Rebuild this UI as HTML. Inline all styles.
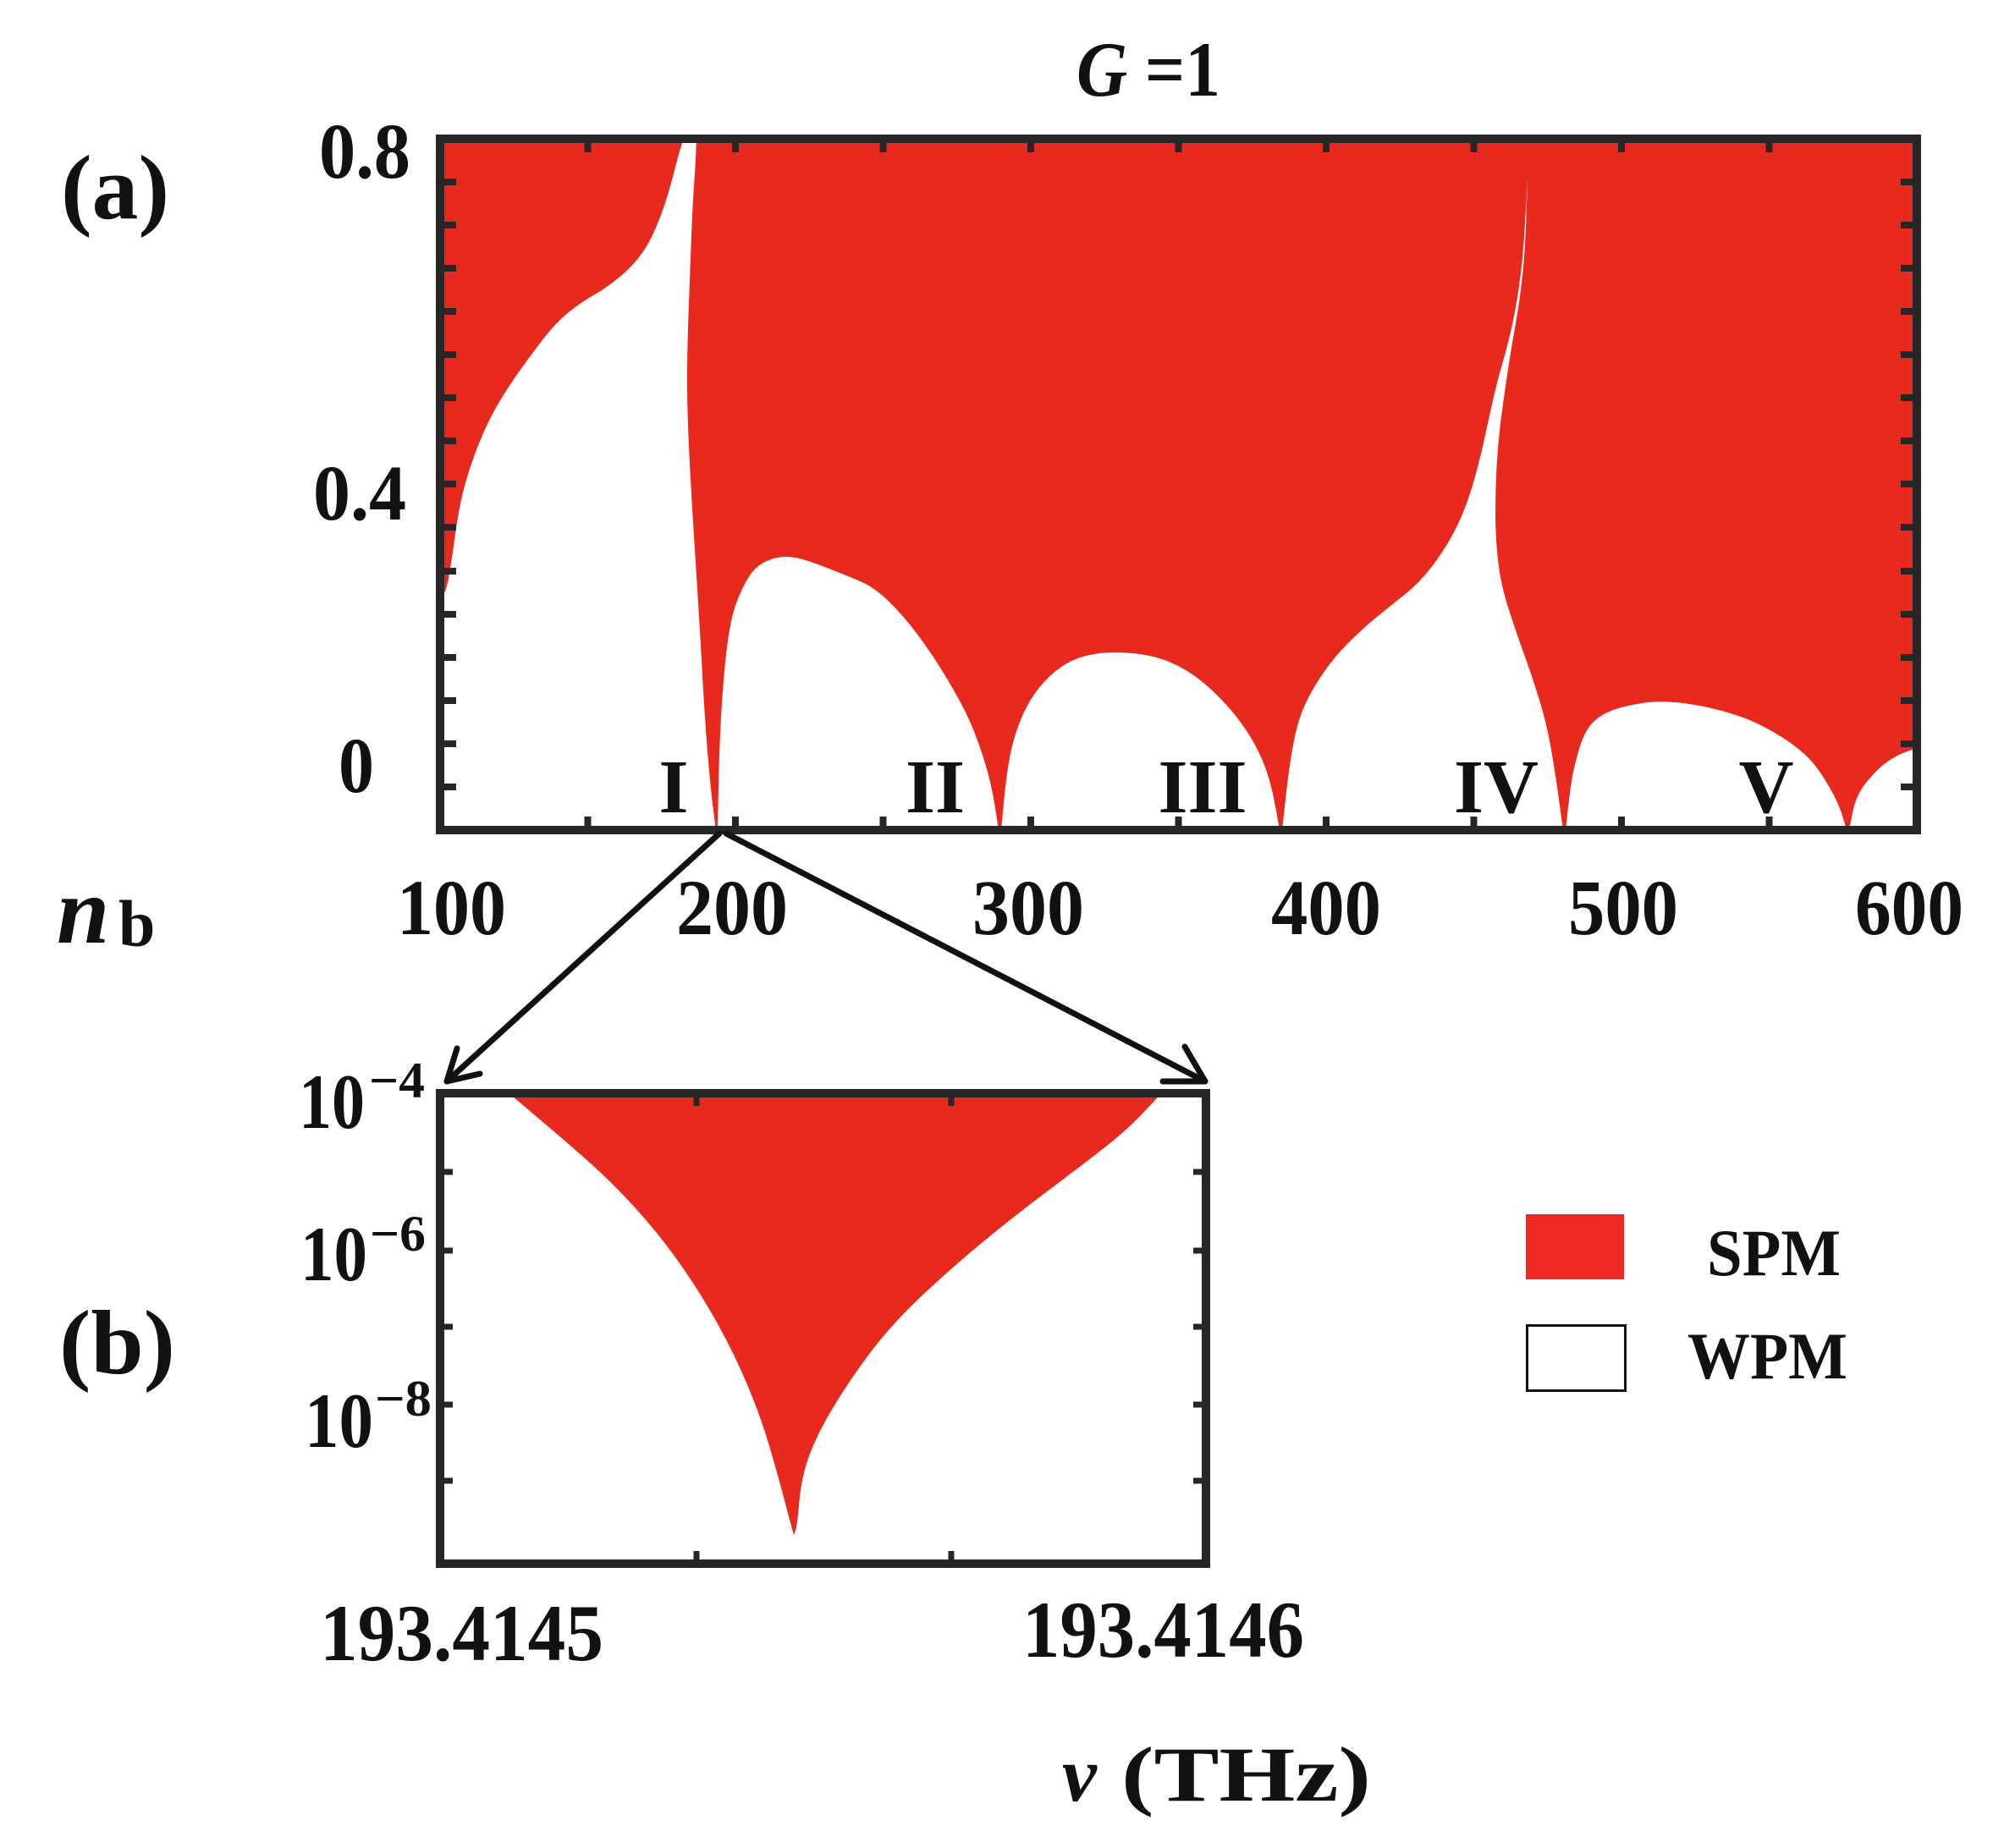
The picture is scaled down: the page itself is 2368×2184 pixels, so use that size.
<!DOCTYPE html>
<html>
<head>
<meta charset="utf-8">
<style>
  html, body { margin: 0; padding: 0; background: #ffffff; }
  svg { display: block; }
  text { font-family: "Liberation Serif", "Times New Roman", serif; font-weight: bold; fill: #111; }
</style>
</head>
<body>
<svg width="2368" height="2184" viewBox="0 0 2368 2184" xmlns="http://www.w3.org/2000/svg">
  <rect x="0" y="0" width="2368" height="2184" fill="#ffffff"/>

  <!-- Panel (a) -->
  <rect x="520" y="164" width="1745" height="817" fill="#E8291E"/>

  <polygon class="sm" fill="#ffffff" points="520,981 520,981 520,705 520,705 527,700 533,667 543,595 557,546 577,497 600,458 627,420 657,381 687,357 717,340 747,315 767,288 783,250 793,217 803,178 808,164 808,164 823,164 823,164 822,190 818,250 815,332 812,414 812,480 815,551 820,634 827,743 833,853 840,935 846,981 846,981"/>
  <polygon class="sm" fill="#ffffff" points="848,981 848,981 850,880 855,798 863,732 877,694 893,669 917,658 940,658 967,667 1000,680 1033,694 1067,727 1100,771 1127,815 1147,853 1163,897 1173,935 1180,981 1180,981"/>
  <polygon class="sm" fill="#ffffff" points="1183,981 1183,981 1190,908 1200,864 1217,826 1240,798 1267,779 1300,771 1333,771 1367,776 1400,790 1433,815 1467,853 1490,892 1503,930 1512,981 1512,981"/>
  <polygon class="sm" fill="#ffffff" points="1515,981 1515,981 1523,908 1533,853 1550,815 1577,776 1610,743 1643,716 1677,689 1707,650 1730,606 1747,551 1760,491 1770,447 1783,403 1793,354 1800,300 1805,210 1805,210 1802,300 1795,360 1786,410 1777,469 1770,524 1767,579 1767,634 1773,689 1790,743 1810,798 1827,853 1837,908 1847,981 1847,981"/>
  <polygon class="sm" fill="#ffffff" points="1850,981 1850,981 1855,935 1860,905 1873,862 1895,842 1930,832 1965,828 2013,834 2063,848 2100,867 2130,888 2150,910 2173,950 2182,981 2182,981"/>
  <polygon class="sm" fill="#ffffff" points="2185,981 2185,981 2193,940 2217,910 2240,893 2262,885 2265,885 2265,885 2265,981 2265,981"/>

  <g stroke="#262626" stroke-width="8">
    <line x1="694.5" y1="164" x2="694.5" y2="180"/>
    <line x1="869" y1="164" x2="869" y2="180"/>
    <line x1="1043.5" y1="164" x2="1043.5" y2="180"/>
    <line x1="1218" y1="164" x2="1218" y2="180"/>
    <line x1="1392.5" y1="164" x2="1392.5" y2="180"/>
    <line x1="1567" y1="164" x2="1567" y2="180"/>
    <line x1="1741.5" y1="164" x2="1741.5" y2="180"/>
    <line x1="1916" y1="164" x2="1916" y2="180"/>
    <line x1="2090.5" y1="164" x2="2090.5" y2="180"/>
    <line x1="694.5" y1="965" x2="694.5" y2="981"/>
    <line x1="869" y1="965" x2="869" y2="981"/>
    <line x1="1043.5" y1="965" x2="1043.5" y2="981"/>
    <line x1="1218" y1="965" x2="1218" y2="981"/>
    <line x1="1392.5" y1="965" x2="1392.5" y2="981"/>
    <line x1="1567" y1="965" x2="1567" y2="981"/>
    <line x1="1741.5" y1="965" x2="1741.5" y2="981"/>
    <line x1="1916" y1="965" x2="1916" y2="981"/>
    <line x1="2090.5" y1="965" x2="2090.5" y2="981"/>
    <line x1="520" y1="215" x2="539" y2="215"/>
    <line x1="520" y1="266" x2="539" y2="266"/>
    <line x1="520" y1="317" x2="539" y2="317"/>
    <line x1="520" y1="368" x2="539" y2="368"/>
    <line x1="520" y1="419" x2="539" y2="419"/>
    <line x1="520" y1="470" x2="539" y2="470"/>
    <line x1="520" y1="521" x2="539" y2="521"/>
    <line x1="520" y1="572" x2="539" y2="572"/>
    <line x1="520" y1="623" x2="539" y2="623"/>
    <line x1="520" y1="675" x2="539" y2="675"/>
    <line x1="520" y1="726" x2="539" y2="726"/>
    <line x1="520" y1="777" x2="539" y2="777"/>
    <line x1="520" y1="828" x2="539" y2="828"/>
    <line x1="520" y1="879" x2="539" y2="879"/>
    <line x1="520" y1="930" x2="539" y2="930"/>
    <line x1="2246" y1="215" x2="2265" y2="215"/>
    <line x1="2246" y1="266" x2="2265" y2="266"/>
    <line x1="2246" y1="317" x2="2265" y2="317"/>
    <line x1="2246" y1="368" x2="2265" y2="368"/>
    <line x1="2246" y1="419" x2="2265" y2="419"/>
    <line x1="2246" y1="470" x2="2265" y2="470"/>
    <line x1="2246" y1="521" x2="2265" y2="521"/>
    <line x1="2246" y1="572" x2="2265" y2="572"/>
    <line x1="2246" y1="623" x2="2265" y2="623"/>
    <line x1="2246" y1="675" x2="2265" y2="675"/>
    <line x1="2246" y1="726" x2="2265" y2="726"/>
    <line x1="2246" y1="777" x2="2265" y2="777"/>
    <line x1="2246" y1="828" x2="2265" y2="828"/>
    <line x1="2246" y1="879" x2="2265" y2="879"/>
    <line x1="2246" y1="930" x2="2265" y2="930"/>
  </g>
  <rect x="520" y="164" width="1745" height="817" fill="none" stroke="#262626" stroke-width="10"/>

  <g font-size="90" text-anchor="middle">
    <text x="796" y="960">I</text>
    <text x="1105" y="960">II</text>
    <text x="1421" y="960">III</text>
    <text x="1768" y="960">IV</text>
    <text x="2087" y="960">V</text>
  </g>

  <text x="1272" y="113" font-size="92" textLength="170" lengthAdjust="spacingAndGlyphs"><tspan font-style="italic">G</tspan> =1</text>

  <text x="72" y="258" font-size="108" textLength="128" lengthAdjust="spacingAndGlyphs">(a)</text>
  <text x="377" y="210" font-size="93" textLength="108" lengthAdjust="spacingAndGlyphs">0.8</text>
  <text x="370" y="614" font-size="93" textLength="110" lengthAdjust="spacingAndGlyphs">0.4</text>
  <text x="400" y="936" font-size="93" textLength="42" lengthAdjust="spacingAndGlyphs">0</text>

  <g font-size="93">
    <text x="469" y="1104" textLength="129" lengthAdjust="spacingAndGlyphs">100</text>
    <text x="799" y="1104" textLength="132" lengthAdjust="spacingAndGlyphs">200</text>
    <text x="1149" y="1104" textLength="132" lengthAdjust="spacingAndGlyphs">300</text>
    <text x="1502" y="1104" textLength="130" lengthAdjust="spacingAndGlyphs">400</text>
    <text x="1853" y="1104" textLength="130" lengthAdjust="spacingAndGlyphs">500</text>
    <text x="2192" y="1104" textLength="128" lengthAdjust="spacingAndGlyphs">600</text>
  </g>

  <text x="67" y="1114" font-size="112" font-style="italic">n</text>
  <text x="140" y="1118" font-size="78" font-weight="normal">b</text>

  <g stroke="#111" stroke-width="7" stroke-linecap="round" stroke-linejoin="round" fill="none">
    <line x1="850" y1="985" x2="528" y2="1278"/>
    <polyline points="540,1239 528,1278 567,1269"/>
    <line x1="858" y1="985" x2="1424" y2="1278"/>
    <polyline points="1374,1278 1424,1278 1400,1237"/>
  </g>

  <!-- Panel (b) -->
  <polygon class="sm" fill="#E8291E" points="602,1292 602,1292 607,1297 670,1350 727,1401 784,1465 832,1535 870,1605 899,1675 918,1739 933,1796 938,1814 938,1814 942,1803 947,1745 966,1694 1004,1631 1052,1567 1119,1503 1196,1439 1272,1382 1330,1337 1368,1297 1372,1292 1372,1292"/>
  <g stroke="#262626" stroke-width="7">
    <line x1="823" y1="1292" x2="823" y2="1307"/>
    <line x1="1124" y1="1292" x2="1124" y2="1307"/>
    <line x1="823" y1="1833" x2="823" y2="1848"/>
    <line x1="1124" y1="1833" x2="1124" y2="1848"/>
    <line x1="520" y1="1385" x2="535" y2="1385"/>
    <line x1="520" y1="1478" x2="535" y2="1478"/>
    <line x1="520" y1="1568" x2="535" y2="1568"/>
    <line x1="520" y1="1660" x2="535" y2="1660"/>
    <line x1="520" y1="1750" x2="535" y2="1750"/>
    <line x1="1410" y1="1385" x2="1425" y2="1385"/>
    <line x1="1410" y1="1478" x2="1425" y2="1478"/>
    <line x1="1410" y1="1568" x2="1425" y2="1568"/>
    <line x1="1410" y1="1660" x2="1425" y2="1660"/>
    <line x1="1410" y1="1750" x2="1425" y2="1750"/>
  </g>
  <rect x="520" y="1292" width="905" height="556" fill="none" stroke="#262626" stroke-width="10"/>

  <text x="70" y="1623" font-size="108" textLength="137" lengthAdjust="spacingAndGlyphs">(b)</text>

  <text x="353" y="1333" font-size="92" textLength="78" lengthAdjust="spacingAndGlyphs">10</text>
  <text x="436" y="1297" font-size="60" textLength="66" lengthAdjust="spacingAndGlyphs">−4</text>
  <text x="355" y="1513" font-size="92" textLength="79" lengthAdjust="spacingAndGlyphs">10</text>
  <text x="437" y="1478" font-size="60" textLength="66" lengthAdjust="spacingAndGlyphs">−6</text>
  <text x="360" y="1710" font-size="92" textLength="81" lengthAdjust="spacingAndGlyphs">10</text>
  <text x="443" y="1673" font-size="60" textLength="67" lengthAdjust="spacingAndGlyphs">−8</text>

  <text x="378" y="1962" font-size="95" textLength="335" lengthAdjust="spacingAndGlyphs">193.4145</text>
  <text x="1208" y="1958" font-size="95" textLength="333" lengthAdjust="spacingAndGlyphs">193.4146</text>

  <rect x="1803" y="1435" width="116" height="77" fill="#EE2A22"/>
  <rect x="1804.5" y="1566.5" width="116" height="77" fill="#ffffff" stroke="#111" stroke-width="3"/>
  <text x="2017" y="1507" font-size="78" textLength="158" lengthAdjust="spacingAndGlyphs">SPM</text>
  <text x="1994" y="1629" font-size="78" textLength="189" lengthAdjust="spacingAndGlyphs">WPM</text>

  <text x="1255" y="2128" font-size="92" font-style="italic">ν</text>
  <text x="1325" y="2128" font-size="92" textLength="295" lengthAdjust="spacingAndGlyphs">(THz)</text>
</svg>
<script>
(function () {
  var NS = 'http://www.w3.org/2000/svg';
  var pgs = document.querySelectorAll('polygon.sm');
  for (var q = 0; q < pgs.length; q++) {
    var pg = pgs[q];
    var nums = pg.getAttribute('points').trim().split(/[\s,]+/).map(Number);
    var p = [];
    for (var i = 0; i + 1 < nums.length; i += 2) p.push([nums[i], nums[i + 1]]);
    var n = p.length;
    if (n < 3) continue;
    var m0 = [(p[0][0] + p[1][0]) / 2, (p[0][1] + p[1][1]) / 2];
    var d = 'M' + m0[0] + ',' + m0[1];
    for (var k = 1; k <= n; k++) {
      var c = p[k % n], nx = p[(k + 1) % n];
      d += ' Q' + c[0] + ',' + c[1] + ' ' + ((c[0] + nx[0]) / 2) + ',' + ((c[1] + nx[1]) / 2);
    }
    d += 'Z';
    var path = document.createElementNS(NS, 'path');
    path.setAttribute('d', d);
    path.setAttribute('fill', pg.getAttribute('fill'));
    pg.parentNode.replaceChild(path, pg);
  }
})();
</script>
</body>
</html>
